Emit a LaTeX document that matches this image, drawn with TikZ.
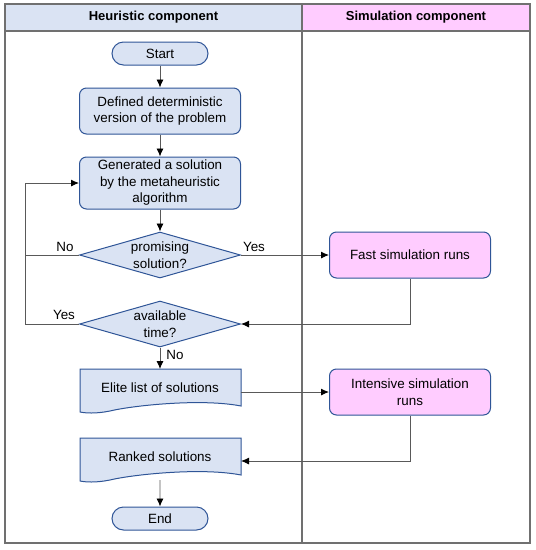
\documentclass[tikz,border=0pt]{standalone}
\usepackage{fontspec}
\setmainfont{Liberation Sans}
\usetikzlibrary{arrows.meta,shapes.geometric,shapes.misc}
\definecolor{boxblue}{HTML}{DAE3F3}
\definecolor{boxpink}{HTML}{FFCCFF}
\definecolor{edgeblue}{HTML}{2F5597}
\definecolor{linegray}{HTML}{595959}
\definecolor{framegray}{HTML}{707070}
\tikzset{
  base/.style={font=\fontsize{13.4}{16.5}\selectfont, align=center, inner sep=0pt},
  procbox/.style={base, draw=edgeblue, line width=1pt, fill=boxblue, rounded corners=7pt, minimum width=161pt},
  simbox/.style={procbox, fill=boxpink},
  termbox/.style={base, draw=edgeblue, line width=1pt, fill=boxblue, rounded rectangle, minimum width=96pt, minimum height=23pt},
  decbox/.style={base, draw=edgeblue, line width=1pt, fill=boxblue, diamond, aspect=3.5, minimum width=161pt, minimum height=46pt},
  txt/.style={base},
  conn/.style={draw=linegray, line width=0.9pt, -{Latex[length=8pt,width=7pt,black]}},
  plain/.style={draw=linegray, line width=0.9pt},
}
\begin{document}
\begin{tikzpicture}[x=1pt,y=-1pt]
\useasboundingbox (0,0) rectangle (536,550);
% swimlane frame
\fill[boxblue] (5,4) rectangle (302,31);
\fill[boxpink] (302,4) rectangle (530,31);
\draw[framegray, line width=1.2pt] (5,4) rectangle (530,543);
\draw[framegray, line width=1.2pt] (5,31) -- (530,31);
\draw[framegray, line width=1.2pt] (302,4) -- (302,543);
\node[txt, font=\fontsize{13}{16}\selectfont\bfseries] (h1) at (153.5,17.5) {Heuristic component};
\node[txt, font=\fontsize{13}{16}\selectfont\bfseries] (h2) at (416,17.5) {Simulation component};

% nodes
\node[termbox] (start) at (160,53.5) {Start};
\node[procbox, minimum height=46pt] (def) at (160,111) {Defined deterministic\\version of the problem};
\node[procbox, minimum height=52pt] (gen) at (160,183) {Generated a solution\\by the metaheuristic\\algorithm};
\node[decbox, label={[base]center:promising\\solution?}] (prom) at (160,255) {};
\node[decbox, label={[base]center:available\\time?}] (avail) at (160,324) {};
\node[simbox, minimum height=46pt] (fast) at (410,255) {Fast simulation runs};
\node[simbox, minimum height=46pt] (inten) at (410,392) {Intensive simulation\\runs};

% document shapes
\coordinate (eliteA) at (80,369);
\coordinate (eliteB) at (241,412);
\draw[draw=edgeblue, line width=1pt, fill=boxblue] (80,369) -- (241,369) -- (241,406)
  .. controls (200,398) and (130,406) .. (110,411) .. controls (95,414) and (85,413) .. (80,412) -- cycle;
\node[txt] (elite) at (160,388) {Elite list of solutions};
\coordinate (eliteR) at (241,392);
\draw[draw=edgeblue, line width=1pt, fill=boxblue] (80,438) -- (241,438) -- (241,475)
  .. controls (200,467) and (130,475) .. (110,480) .. controls (95,483) and (85,482) .. (80,481) -- cycle;
\node[txt] (ranked) at (160,457) {Ranked solutions};
\coordinate (rankedR) at (241,461);
\coordinate (rankedT) at (160,438);
\coordinate (rankedB) at (160,480);
\coordinate (eliteT) at (160,369);
\node[termbox] (end) at (160,518.5) {End};

% connectors
\draw[conn] (start) -- (def);
\draw[conn] (def) -- (gen);
\draw[conn] (gen) -- (prom);
\coordinate (loopL) at (25,183);
\draw[plain] (prom.west) -- (25,255);
\draw[conn] (avail.west) -- (25,324) -- (loopL) -- (gen.west);
\draw[conn] (prom.east) -- (fast.west);
\draw[conn] (fast.south) |- (avail.east);
\draw[conn] (avail.south) -- (eliteT);
\draw[conn] (eliteR) -- (inten.west |- eliteR);
\draw[conn] (inten.south) |- (rankedR);
\draw[conn] (rankedB) -- (end);

% labels
\node[txt] (lno1) at (65,247) {No};
\node[txt] (lyes1) at (254,247) {Yes};
\node[txt] (lyes2) at (64,315) {Yes};
\node[txt] (lno2) at (175,355) {No};
\end{tikzpicture}
\end{document}
